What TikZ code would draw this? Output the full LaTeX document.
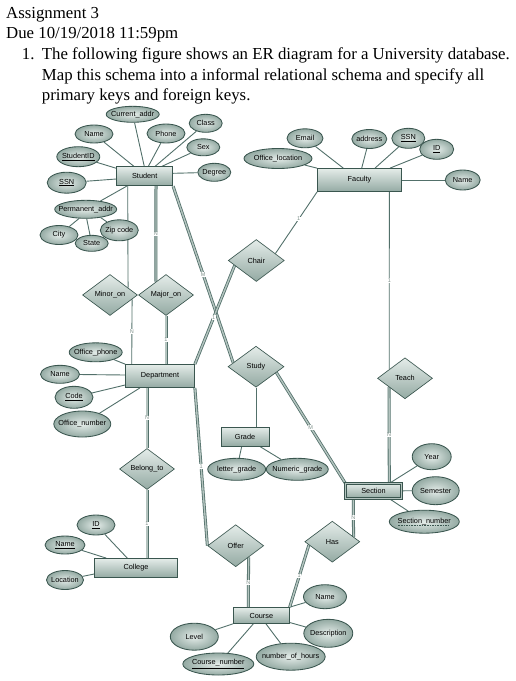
\documentclass[tikz,border=0pt]{standalone}
\usepackage{fontspec}
\setmainfont{Liberation Serif}
\newfontfamily\dgfont{Liberation Sans}
\usetikzlibrary{shapes.geometric,backgrounds}
\definecolor{lnc}{HTML}{52706A}
\definecolor{bdc}{HTML}{3A564F}
\definecolor{flA}{HTML}{E4ECE9}
\definecolor{flB}{HTML}{94AAA3}
\definecolor{dbl}{HTML}{B4C4BF}
\definecolor{labc}{HTML}{7E908A}
\newcommand{\cz}[1]{\makebox[0pt]{#1}}
\newcommand{\hdrfont}{\fontsize{16.8}{20}\selectfont}
\newcommand{\dgsize}{\dgfont\fontsize{7.3}{8}\selectfont}
\begin{document}
\begin{tikzpicture}[x=1pt,y=-1pt,
  ell/.style 2 args={ellipse, draw=bdc, line width=0.85pt, inner color=flA, outer color=flB,
    inner sep=0pt, minimum width=#1pt, minimum height=#2pt, font=\dgsize},
  box/.style 2 args={rectangle, draw=bdc, line width=0.75pt, top color=flA, bottom color=flB,
    inner sep=0pt, minimum width=#1pt, minimum height=#2pt, font=\dgsize},
  dia/.style 2 args={diamond, draw=bdc, line width=0.65pt, top color=flA, bottom color=flB,
    inner sep=0pt, minimum width=#1pt, minimum height=#2pt, font=\dgsize},
  ln/.style={draw=lnc, line width=0.9pt},
  dl/.style={draw=lnc, line width=0.8pt, double=dbl, double distance=1.4pt},
  lab/.style={fill=white, text=labc, font=\dgfont\fontsize{5.5}{5.5}\selectfont, inner sep=0.5pt},
  hd/.style={anchor=base west, inner sep=0pt, font=\hdrfont}
]
\useasboundingbox (0,0) rectangle (516,681);

% header
\node[hd] (h1) at (6,18.3) {Assignment 3};
\node[hd] (h2) at (6,38.3) {Due 10/19/2018 11:59pm};
\node[hd] (h3n) at (21.7,59) {1.};
\node[hd] (h3) at (41.7,59) {The following figure shows an ER diagram for a University database.};
\node[hd] (h4) at (41.7,80) {Map this schema into a informal relational schema and specify all};
\node[hd] (h5) at (41.7,100) {primary keys and foreign keys.};

% entities
\node[box={56}{19}] (student) at (144.7,176.3) {\cz{Student}};
\node[box={84}{23}] (faculty) at (359.5,180) {\cz{Faculty}};
\node[box={69}{23}] (dept) at (160,376) {\cz{Department}};
\node[box={48}{19}] (grade) at (245,436.7) {\cz{Grade}};
\node[box={56}{15}, double=dbl, double distance=1.6pt] (section) at (373.5,490.8) {\cz{Section}};
\node[box={83}{19}] (college) at (136,568) {\cz{College}};
\node[box={56}{16}] (course) at (261.3,615.5) {\cz{Course}};

% relationships
\node[dia={56}{42}] (chair) at (256.3,260.5) {\cz{Chair}};
\node[dia={55}{41}] (minor) at (110,295) {\cz{Minor\_on}};
\node[dia={55}{41}] (major) at (166,295) {\cz{Major\_on}};
\node[dia={56}{41}] (study) at (256,366.7) {\cz{Study}};
\node[dia={55}{41}] (teach) at (405,378.3) {\cz{Teach}};
\node[dia={55}{41}] (belong) at (147,469) {\cz{Belong\_to}};
\node[dia={56}{42}] (offer) at (235.7,545.7) {\cz{Offer}};
\node[dia={55}{41}] (has) at (332.3,541.7) {\cz{Has}};

% student attributes
\node[ell={53}{16}] (cur) at (132.7,114.3) {\cz{Current\_addr}};
\node[ell={38}{18}] (sname) at (94,134) {\cz{Name}};
\node[ell={38}{19}] (phone) at (166,133.5) {\cz{Phone}};
\node[ell={33}{18}] (class) at (205.7,123.3) {\cz{Class}};
\node[ell={33}{17}] (sex) at (203.3,147.3) {\cz{Sex}};
\node[ell={43}{20}] (sid) at (78.3,156.7) {\cz{\underline{StudentID}}};
\node[ell={33}{18}] (degree) at (214.3,172.3) {\cz{Degree}};
\node[ell={39}{21}] (sssn) at (66.7,182.7) {\cz{\underline{SSN}}};
\node[ell={62}{18}] (paddr) at (85.7,209.3) {\cz{Permanent\_addr}};
\node[ell={38}{19}] (city) at (59,235) {\cz{City}};
\node[ell={33}{16}] (state) at (91.7,243.3) {\cz{State}};
\node[ell={38}{21}] (zip) at (119.3,230.3) {\cz{Zip code}};

% faculty attributes
\node[ell={36}{19}] (email) at (305,138.3) {\cz{Email}};
\node[ell={35}{19}] (faddr) at (369.3,139) {\cz{address}};
\node[ell={33}{20}] (fssn) at (408.3,138.3) {\cz{\underline{SSN}}};
\node[ell={34}{20}] (fid) at (436.7,149.3) {\cz{\underline{ID}}};
\node[ell={68}{20}] (offloc) at (278,158.5) {\cz{Office\_location}};
\node[ell={35}{20}] (fname) at (462.7,180) {\cz{Name}};

% department attributes
\node[ell={53}{19}] (ophone) at (95.7,352.3) {\cz{Office\_phone}};
\node[ell={39}{18}] (dname) at (60,374.3) {\cz{Name}};
\node[ell={38}{22}] (code) at (74,397.3) {\cz{\underline{Code}}};
\node[ell={57}{26}] (onum) at (82.3,424) {\cz{Office\_number}};

% grade attributes
\node[ell={58}{22}] (letter) at (236.7,469.3) {\cz{letter\_grade}};
\node[ell={62}{22}] (numeric) at (297.3,469.3) {\cz{Numeric\_grade}};

% section attributes
\node[ell={39}{26}] (year) at (431.7,456.7) {\cz{Year}};
\node[ell={47}{28}] (semester) at (435.7,490.7) {\cz{Semester}};
\node[ell={70}{23}] (secnum) at (424.3,521.7) {\cz{Section\_number}};
\draw[bdc, line width=0.4pt, dash pattern=on 1.6pt off 1pt]
  ([xshift=-26pt,yshift=-3.2pt]secnum.center) -- ([xshift=26pt,yshift=-3.2pt]secnum.center);

% college attributes
\node[ell={38}{20}] (cid) at (96,525) {\cz{\underline{ID}}};
\node[ell={40}{18}] (cname) at (65,545) {\cz{\underline{Name}}};
\node[ell={37}{19}] (loc) at (65,580) {\cz{Location}};

% course attributes
\node[ell={43}{24}] (crname) at (325,596.7) {\cz{Name}};
\node[ell={49}{28}] (desc) at (328.3,633.3) {\cz{Description}};
\node[ell={69}{27}] (hours) at (290.7,656.7) {\cz{number\_of\_hours}};
\node[ell={71}{22}] (cnum) at (218.3,664) {\cz{\underline{Course\_number}}};
\node[ell={48}{27}] (level) at (194.3,636.7) {\cz{Level}};

\begin{scope}[on background layer]
% student attribute lines
\draw[ln] (cur) -- ([xshift=-0.4pt]student.north);
\draw[ln] (sname) -- ([xshift=-10.7pt]student.north);
\draw[ln] (phone) -- ([xshift=3.6pt]student.north);
\draw[ln] (class) -- ([xshift=10.3pt]student.north);
\draw[ln] (sex) -- ([xshift=17pt]student.north);
\draw[ln] (degree) -- ([yshift=3pt]student.east);
\draw[ln] (sid) -- ([yshift=8pt]student.west);
\draw[ln] (sssn) -- ([yshift=-2.7pt]student.west);
\draw[ln] (paddr) -- ([xshift=-18pt]student.south);
\draw[ln] (city) -- (paddr.234);
\draw[ln] (state) -- (paddr.276);
\draw[ln] (zip) -- (paddr.331);
% faculty attribute lines
\draw[ln] (email) -- ([xshift=-16.2pt]faculty.north);
\draw[ln] (faddr) -- ([xshift=2.2pt]faculty.north);
\draw[ln] (fssn) -- ([xshift=15.5pt]faculty.north);
\draw[ln] (fid) -- ([xshift=30.5pt]faculty.north);
\draw[ln] (offloc) -- (faculty.north west);
\draw[ln] (fname) -- (faculty.east);
% department attribute lines
\draw[ln] (ophone) -- (dept.north west);
\draw[ln] (dname) -- ([yshift=1pt]dept.west);
\draw[ln] (code) -- ([yshift=-9pt]dept.west);
\draw[ln] (onum) -- ([xshift=-20pt]dept.south);
% grade
\draw[ln] ([xshift=-3.3pt]grade.south) -- (letter);
\draw[ln] ([xshift=15pt]grade.south) -- (numeric);
% section
\draw[ln] (year) -- ([xshift=16.5pt]section.north);
\draw[ln] (semester) -- (section.east);
\draw[ln] (secnum) -- ([xshift=15.8pt]section.south);
% college
\draw[ln] (cid) -- ([xshift=-8.7pt]college.north);
\draw[ln] (cname) -- ([xshift=12.2pt]college.north west);
\draw[ln] (loc) -- ([yshift=-6pt]college.west);
% course
\draw[ln] (crname) -- (course.north east);
\draw[ln] (desc) -- ([yshift=-7pt]course.east);
\draw[ln] (hours) -- ([xshift=4.7pt]course.south);
\draw[ln] (cnum) -- ([xshift=-8pt]course.south);
\draw[ln] (level) -- (course.south west);

% relationship connectors
\draw[ln] ([xshift=-17pt]student.south) -- node[lab]{M} (minor.22.4);
\draw[ln] (minor.-11.2) -- node[lab]{N} ([xshift=-28.3pt]dept.north);
\draw[dl] ([xshift=11.3pt]student.south) -- node[lab]{N} (major.127.5);
\draw[dl] (major.south) -- node[lab]{1} ([xshift=6pt]dept.north);
\draw[dl] (student.south east) -- node[lab]{M} (study.170.3);
\draw[dl] (chair.193.2) -- node[lab,pos=0.53]{1} (dept.north east);
\draw[ln] (chair.20.5) -- node[lab,pos=0.56]{1} (faculty.south west);
\draw[ln] ([xshift=29.8pt]faculty.south) -- node[lab]{1} (teach.150.7);
\draw[dl] (teach.209.3) -- node[lab]{N} ([xshift=15.8pt]section.north);
\draw[ln] (study.south) -- ([xshift=11pt]grade.north);
\draw[dl] (study.-16.4) -- node[lab]{M} (section.north west);
\draw[dl] ([xshift=-20.2pt]section.south) -- node[lab]{N} (has.13);
\draw[dl] (has.188.3) -- node[lab]{1} (course.north east);
\draw[dl] ([xshift=-13pt]dept.south) -- node[lab]{N} (belong.north);
\draw[dl] (belong.south) -- node[lab]{1} ([xshift=11pt]college.north);
\draw[dl] (dept.south east) -- node[lab]{1} (offer.west);
\draw[dl] (offer.-42.5) -- node[lab]{N} ([xshift=-13pt]course.north);
\end{scope}
\end{tikzpicture}
\end{document}
